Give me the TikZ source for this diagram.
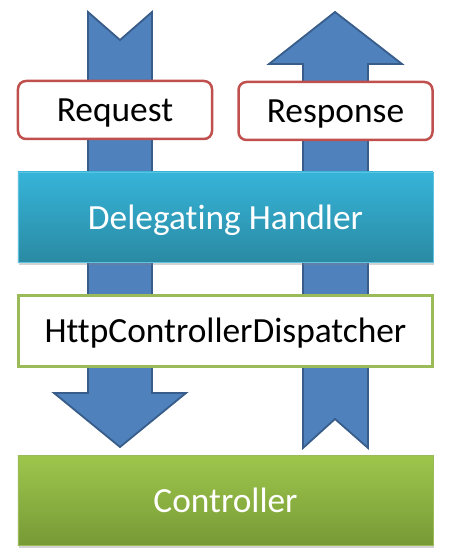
\documentclass[tikz,border=0pt]{standalone}
\usepackage{fontspec}
\setmainfont{Carlito}[Ligatures=NoCommon]
\usetikzlibrary{positioning}
\usetikzlibrary{shadows}

\definecolor{arrowfill}{HTML}{4F81BD}
\definecolor{arrowline}{HTML}{385D8A}
\definecolor{msgred}{HTML}{C0504D}
\definecolor{handtop}{HTML}{36B4D9}
\definecolor{handbot}{HTML}{2A8AA3}
\definecolor{ctrltop}{HTML}{9EC64C}
\definecolor{ctrlbot}{HTML}{779A36}
\definecolor{dispgreen}{HTML}{9BBB59}

\tikzset{
  flow/.style={fill=arrowfill, draw=arrowline, line width=1.8bp, line join=miter},
  msgbox/.style={draw=msgred, line width=2.5bp, rounded corners=8bp, fill=white, text depth=0pt,
    minimum width=194bp, minimum height=58bp, font=\fontsize{35.5}{40}\selectfont},
  layer/.style={minimum width=415bp, minimum height=90bp, text=white, text depth=0pt,
    font=\fontsize{35.5}{40}\selectfont, drop shadow={shadow xshift=1bp, shadow yshift=-3bp, opacity=.35}},
}

\begin{document}
\begin{tikzpicture} [x=1bp, y=-1bp]
\useasboundingbox (0,0) rectangle (449,560);
% request going down
\draw[flow] (88,12) -- (120,40) -- (152,12) -- (152,393) -- (186,393) -- (120,447)
  -- (54,393) -- (88,393) -- cycle;
% response going up
\draw[flow] (303,448) -- (335,419) -- (368,448) -- (368,64) -- (402,64) -- (335,12)
  -- (269,64) -- (303,64) -- cycle;

\node[msgbox] (request) at (115,110) {Request};
\node[msgbox] (response) at (335.5,111) {Response};

\node[layer, top color=handtop, bottom color=handbot, draw=handtop!80!white, line width=.8bp]
  (handler) at (225.5,217) {Delegating Handler};
\node[draw=dispgreen, line width=3bp, fill=white, minimum width=413bp, minimum height=71bp,
  text depth=0pt, font=\fontsize{35.5}{40}\selectfont] (dispatcher) at (225.5,330.5) {HttpControllerDispatcher};
\node[layer, top color=ctrltop, bottom color=ctrlbot, draw=dispgreen, line width=.8bp]
  (controller) at (225.5,500) {Controller};
\end{tikzpicture}
\end{document}
